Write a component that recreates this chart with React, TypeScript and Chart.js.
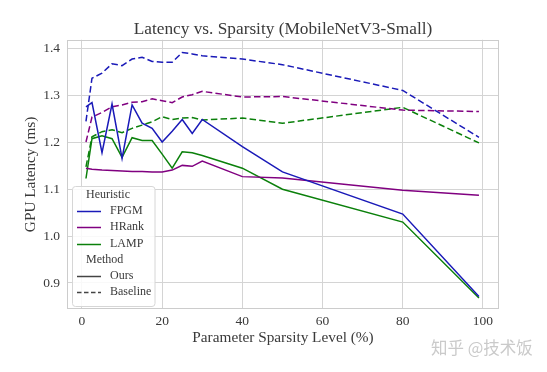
import React, { useEffect, useRef } from "react";
import { Chart, registerables } from "chart.js";

Chart.register(...registerables);

// ---- data ----
const sparsity = [1, 2.5, 5, 7.5, 10, 12.5, 15, 17.5, 20, 22.5, 25, 27.5, 30, 40, 50, 80, 99];

const fpgmOurs = [1.276, 1.285, 1.178, 1.282, 1.166, 1.280, 1.241, 1.230, 1.201, 1.224, 1.249, 1.219, 1.249, 1.191, 1.137, 1.047, 0.871];
const hrankOurs = [1.145, 1.143, 1.141, 1.140, 1.139, 1.138, 1.138, 1.137, 1.137, 1.141, 1.151, 1.149, 1.160, 1.127, 1.124, 1.098, 1.087];
const lampOurs = [1.123, 1.208, 1.214, 1.208, 1.168, 1.210, 1.204, 1.204, 1.175, 1.145, 1.180, 1.178, 1.172, 1.145, 1.100, 1.030, 0.868];

const fpgmBase = [1.245, 1.337, 1.348, 1.368, 1.364, 1.378, 1.382, 1.373, 1.371, 1.371, 1.392, 1.389, 1.385, 1.378, 1.366, 1.311, 1.211];
const hrankBase = [1.201, 1.254, 1.264, 1.276, 1.280, 1.286, 1.287, 1.293, 1.289, 1.285, 1.297, 1.302, 1.309, 1.297, 1.298, 1.269, 1.266];
const lampBase = [1.148, 1.212, 1.223, 1.227, 1.221, 1.230, 1.237, 1.244, 1.255, 1.249, 1.252, 1.253, 1.248, 1.252, 1.241, 1.275, 1.199];

const xTicks = [0, 20, 40, 60, 80, 100];
const yTicks = [0.9, 1.0, 1.1, 1.2, 1.3, 1.4];

const heuristics = ["FPGM", "HRank", "LAMP"];
const methods = ["Ours", "Baseline"];

const titleText = "Latency vs. Sparsity (MobileNetV3-Small)";
const xTitle = "Parameter Sparsity Level (%)";
const yTitle = "GPU Latency (ms)";
const legendTitleHeuristic = "Heuristic";
const legendTitleMethod = "Method";
const watermark = "知乎 @技术饭";

// ---- styles ----
const SERIF = '"Liberation Serif", "Times New Roman", serif';
const TEXT = "#3a3a3a";
const GRID = "#d4d4d4";
const colors: Record<string, string> = { FPGM: "#1a1ab8", HRank: "#800080", LAMP: "#0b800b" };
const methodColor = "#444444";
const DASH = [6.5, 3.2];

const toPoints = (ys: number[]) => sparsity.map((x, i) => ({ x, y: ys[i] }));

const frameAndLegend = {
  id: "frameAndLegend",
  afterDatasetsDraw(chart: any) {
    const { ctx, chartArea } = chart;
    ctx.save();
    ctx.strokeStyle = "#cccccc";
    ctx.lineWidth = 1;
    ctx.strokeRect(
      Math.round(chartArea.left) + 0.5,
      Math.round(chartArea.top) + 0.5,
      Math.round(chartArea.right - chartArea.left) - 1,
      Math.round(chartArea.bottom - chartArea.top) - 1
    );
    ctx.restore();
  },
  afterDraw(chart: any) {
    const { ctx } = chart;
    ctx.save();
    // legend box
    const x0 = 72.5, y0 = 186.5, w = 82.5, h = 120, r = 3;
    ctx.beginPath();
    ctx.moveTo(x0 + r, y0);
    ctx.lineTo(x0 + w - r, y0);
    ctx.arcTo(x0 + w, y0, x0 + w, y0 + r, r);
    ctx.lineTo(x0 + w, y0 + h - r);
    ctx.arcTo(x0 + w, y0 + h, x0 + w - r, y0 + h, r);
    ctx.lineTo(x0 + r, y0 + h);
    ctx.arcTo(x0, y0 + h, x0, y0 + h - r, r);
    ctx.lineTo(x0, y0 + r);
    ctx.arcTo(x0, y0, x0 + r, y0, r);
    ctx.closePath();
    ctx.fillStyle = "rgba(255,255,255,0.85)";
    ctx.fill();
    ctx.strokeStyle = "#d6d6d6";
    ctx.lineWidth = 1;
    ctx.stroke();

    const rows: { kind: string; text: string; color?: string; dash?: number[] }[] = [
      { kind: "title", text: legendTitleHeuristic },
      ...heuristics.map((hname) => ({ kind: "line", text: hname, color: colors[hname], dash: [] as number[] })),
      { kind: "title", text: legendTitleMethod },
      { kind: "line", text: methods[0], color: methodColor, dash: [] },
      { kind: "line", text: methods[1], color: methodColor, dash: [4.5, 2.5] },
    ];
    ctx.font = `12px ${SERIF}`;
    ctx.textBaseline = "middle";
    ctx.textAlign = "left";
    rows.forEach((row, i) => {
      const y = 195 + i * 16.17;
      if (row.kind === "title") {
        ctx.fillStyle = TEXT;
        ctx.fillText(row.text, 86, y);
      } else {
        ctx.beginPath();
        ctx.setLineDash(row.dash || []);
        ctx.strokeStyle = row.color!;
        ctx.lineWidth = 1.5;
        ctx.moveTo(77, Math.round(y) + 0.5);
        ctx.lineTo(101, Math.round(y) + 0.5);
        ctx.stroke();
        ctx.setLineDash([]);
        ctx.fillStyle = TEXT;
        ctx.fillText(row.text, 110, y);
      }
    });

    // watermark
    ctx.font = `16.5px "Noto Sans CJK SC", sans-serif`;
    ctx.fillStyle = "#cacaca";
    ctx.textBaseline = "middle";
    ctx.fillText(watermark, 431, 348);
    ctx.restore();
  },
};

export default function App() {
  const ref = useRef<HTMLCanvasElement | null>(null);

  useEffect(() => {
    if (!ref.current) return;
    const mk = (label: string, ys: number[], color: string, dashed: boolean) => ({
      label,
      data: toPoints(ys),
      borderColor: color,
      backgroundColor: color,
      borderWidth: 1.5,
      borderDash: dashed ? DASH : [],
      pointRadius: 0,
      tension: 0,
      fill: false,
    });
    const chart = new Chart(ref.current, {
      type: "line",
      data: {
        datasets: [
          mk("FPGM Ours", fpgmOurs, colors.FPGM, false),
          mk("HRank Ours", hrankOurs, colors.HRank, false),
          mk("LAMP Ours", lampOurs, colors.LAMP, false),
          mk("FPGM Baseline", fpgmBase, colors.FPGM, true),
          mk("HRank Baseline", hrankBase, colors.HRank, true),
          mk("LAMP Baseline", lampBase, colors.LAMP, true),
        ],
      },
      options: {
        responsive: false,
        animation: false,
        devicePixelRatio: 1,
        layout: { padding: { left: 0, right: 48, top: 0, bottom: 0 } },
        plugins: {
          legend: { display: false },
          tooltip: { enabled: false },
          title: {
            display: true,
            text: titleText,
            fullSize: false,
            color: TEXT,
            font: { family: SERIF, size: 17.3, weight: "normal" },
            padding: { top: 19, bottom: 0 },
          },
        },
        scales: {
          x: {
            type: "linear",
            min: -3.73,
            max: 104.0,
            afterBuildTicks: (s: any) => {
              s.ticks = xTicks.map((v) => ({ value: v }));
            },
            afterFit: (s: any) => {
              s.height = 63;
            },
            grid: { color: GRID, lineWidth: 1, drawTicks: false },
            border: { display: false },
            ticks: {
              padding: 4,
              color: TEXT,
              font: { family: SERIF, size: 13.5 },
              callback: (v: any) => String(v),
            },
            title: {
              display: true,
              text: xTitle,
              color: TEXT,
              font: { family: SERIF, size: 15.3 },
              padding: { top: 0, bottom: 25 },
            },
          },
          y: {
            type: "linear",
            min: 0.8444,
            max: 1.4192,
            afterBuildTicks: (s: any) => {
              s.ticks = yTicks.map((v) => ({ value: v }));
            },
            afterFit: (s: any) => {
              s.width = 67;
            },
            grid: { color: GRID, lineWidth: 1, drawTicks: false },
            border: { display: false },
            ticks: {
              padding: 7,
              color: TEXT,
              font: { family: SERIF, size: 13.5 },
              callback: (v: any) => Number(v).toFixed(1),
            },
            title: {
              display: true,
              text: yTitle,
              color: TEXT,
              font: { family: SERIF, size: 15.3 },
              padding: { top: 22, bottom: 0 },
            },
          },
        },
      } as any,
      plugins: [frameAndLegend],
    });
    return () => chart.destroy();
  }, []);

  return (
    <div style={{ position: "absolute", left: 0, top: 0, width: 547, height: 372, background: "#fff" }}>
      <canvas ref={ref} width={547} height={372} style={{ display: "block" }} />
    </div>
  );
}
